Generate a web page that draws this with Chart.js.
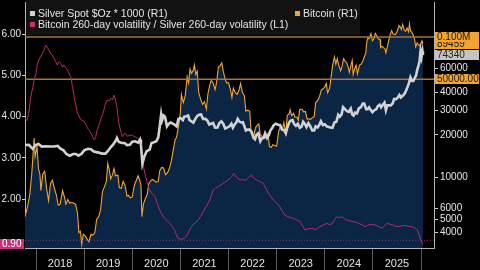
<!DOCTYPE html>
<html>
<head>
<meta charset="utf-8">
<script src="https://cdn.jsdelivr.net/npm/chart.js@4.4.1/dist/chart.umd.min.js"></script>
<style>
  html, body { margin: 0; padding: 0; background: #000; }
  canvas { display: block; }
</style>
</head>
<body>
<canvas id="chart" width="480" height="270"></canvas>
<script>
// Bitcoin (R1), decimal year / USD
const btcTime = [
  2017.77, 2017.82, 2017.87, 2017.91, 2017.94, 2017.96, 2017.98,
  2018.02, 2018.05, 2018.08, 2018.10, 2018.14, 2018.18, 2018.22, 2018.26, 2018.30, 2018.34, 2018.38, 2018.42, 2018.46, 2018.50, 2018.55, 2018.59, 2018.62, 2018.66, 2018.70, 2018.74, 2018.78, 2018.82, 2018.86, 2018.89, 2018.92, 2018.95, 2018.98,
  2019.02, 2019.06, 2019.10, 2019.14, 2019.18, 2019.22, 2019.26, 2019.30, 2019.34, 2019.38, 2019.42, 2019.46, 2019.49, 2019.52, 2019.55, 2019.59, 2019.62, 2019.65, 2019.70, 2019.73, 2019.77, 2019.81, 2019.85, 2019.89, 2019.92, 2019.96,
  2020.00, 2020.04, 2020.08, 2020.12, 2020.15, 2020.18, 2020.20, 2020.23, 2020.27, 2020.31, 2020.34, 2020.38, 2020.42, 2020.46, 2020.50, 2020.54, 2020.57, 2020.61, 2020.65, 2020.69, 2020.73, 2020.77, 2020.81, 2020.85, 2020.89, 2020.92, 2020.96,
  2021.00, 2021.02, 2021.06, 2021.10, 2021.14, 2021.17, 2021.20, 2021.23, 2021.27, 2021.29, 2021.32, 2021.35, 2021.38, 2021.42, 2021.46, 2021.50, 2021.54, 2021.57, 2021.61, 2021.64, 2021.68, 2021.72, 2021.75, 2021.79, 2021.82, 2021.86, 2021.89, 2021.93, 2021.96,
  2022.00, 2022.04, 2022.07, 2022.10, 2022.14, 2022.18, 2022.22, 2022.25, 2022.29, 2022.33, 2022.36, 2022.40, 2022.44, 2022.47, 2022.52, 2022.56, 2022.60, 2022.63, 2022.66, 2022.70, 2022.74, 2022.78, 2022.82, 2022.85, 2022.89, 2022.92, 2022.96,
  2023.00, 2023.04, 2023.08, 2023.12, 2023.15, 2023.19, 2023.22, 2023.26, 2023.28, 2023.31, 2023.35, 2023.38, 2023.42, 2023.45, 2023.48, 2023.53, 2023.56, 2023.60, 2023.63, 2023.66, 2023.70, 2023.74, 2023.78, 2023.81, 2023.85, 2023.89, 2023.93, 2023.96,
  2024.00, 2024.03, 2024.06, 2024.10, 2024.13, 2024.16, 2024.20, 2024.23, 2024.26, 2024.29, 2024.33, 2024.36, 2024.39, 2024.42, 2024.46, 2024.49, 2024.51, 2024.55, 2024.57, 2024.59, 2024.62, 2024.65, 2024.68, 2024.72, 2024.75, 2024.79, 2024.82, 2024.85, 2024.87, 2024.89, 2024.92, 2024.96, 2024.99,
  2025.02, 2025.05, 2025.08, 2025.11, 2025.15, 2025.16, 2025.19, 2025.22, 2025.25, 2025.27, 2025.30, 2025.33, 2025.36, 2025.39, 2025.42, 2025.46, 2025.49, 2025.53, 2025.54, 2025.57, 2025.59, 2025.62, 2025.65, 2025.68, 2025.71, 2025.74, 2025.76, 2025.78, 2025.81, 2025.84, 2025.87, 2025.89, 2025.92, 2025.96, 2025.99,
  2026.02, 2026.04
];
const btcValue = [
  5200, 6100, 7500, 10500, 15000, 19000, 14000,
  16500, 11500, 10500, 8000, 10500, 11000, 8200, 6800, 9000, 9500, 8300, 7500, 6300, 6400, 8000, 7200, 6400, 6900, 6500, 6600, 6500, 6400, 5600, 4000, 4100, 3300, 3900,
  3800, 3600, 3450, 3900, 3850, 4000, 5000, 5200, 5800, 7900, 8500, 9300, 12500, 11300, 9700, 10400, 11500, 10200, 10300, 8400, 8300, 9300, 8700, 7300, 7400, 7100,
  7200, 8700, 9400, 10200, 9600, 8700, 5200, 6400, 7000, 7500, 8900, 9400, 9600, 9400, 9200, 9300, 11100, 11700, 11600, 10400, 10700, 11500, 13000, 15500, 18500, 19200, 23000,
  29000, 39000, 34000, 38000, 52000, 47000, 59000, 55000, 58000, 63000, 54000, 57000, 40000, 36000, 33000, 34500, 30500, 39000, 45500, 49000, 47000, 42000, 47000, 61000, 62000, 65500, 57000, 50000, 47000,
  47000, 42000, 37000, 43000, 40000, 39000, 42000, 46500, 40000, 38000, 29500, 30000, 29500, 20500, 19500, 22500, 23500, 24000, 20000, 19500, 19000, 19300, 20500, 16500, 16300, 17000, 16800,
  16600, 21000, 23000, 22000, 24500, 20500, 27500, 28300, 30300, 27500, 28500, 26800, 26800, 25500, 30500, 30500, 29200, 29400, 26000, 26000, 25800, 26500, 27000, 34000, 35000, 37500, 42000, 42500,
  44000, 46500, 40000, 43000, 51000, 62000, 72000, 64000, 70000, 63000, 57500, 62000, 70000, 67500, 65000, 60500, 56000, 64000, 68000, 54000, 59000, 63000, 54500, 63000, 63500, 67000, 72000, 76000, 90000, 98000, 97000, 106000, 94000,
  97000, 106000, 102000, 97000, 96000, 84000, 86000, 84000, 82500, 77000, 85000, 95000, 104000, 111000, 105000, 104000, 107000, 117000, 121000, 118000, 113000, 123000, 112000, 110000, 116000, 109000, 124000, 111000, 108000, 103000, 95000, 85000, 91000, 87000, 88000,
  94000, 89459
];

// Silver spot x 1000 (R1)
const silverTime = [
  2017.77, 2017.85, 2017.93, 2017.99,
  2018.05, 2018.12, 2018.20, 2018.28, 2018.37, 2018.45, 2018.50, 2018.57, 2018.63, 2018.70, 2018.77, 2018.83, 2018.88, 2018.95,
  2019.00, 2019.08, 2019.14, 2019.20, 2019.28, 2019.37, 2019.44, 2019.49, 2019.55, 2019.60, 2019.66, 2019.68, 2019.72, 2019.78, 2019.84, 2019.89, 2019.95,
  2020.00, 2020.06, 2020.12, 2020.16, 2020.18, 2020.21, 2020.25, 2020.30, 2020.36, 2020.40, 2020.45, 2020.50, 2020.54, 2020.57, 2020.60, 2020.62, 2020.65, 2020.68, 2020.72, 2020.76, 2020.80, 2020.85, 2020.89, 2020.92, 2020.96,
  2021.00, 2021.05, 2021.08, 2021.12, 2021.16, 2021.19, 2021.23, 2021.27, 2021.31, 2021.35, 2021.39, 2021.43, 2021.47, 2021.52, 2021.56, 2021.60, 2021.64, 2021.68, 2021.72, 2021.77, 2021.81, 2021.85, 2021.89, 2021.93, 2021.97,
  2022.02, 2022.06, 2022.09, 2022.13, 2022.16, 2022.19, 2022.22, 2022.26, 2022.30, 2022.33, 2022.36, 2022.40, 2022.44, 2022.48, 2022.52, 2022.55, 2022.58, 2022.62, 2022.66, 2022.69, 2022.73, 2022.76, 2022.80, 2022.84, 2022.87, 2022.91, 2022.94, 2022.98,
  2023.03, 2023.07, 2023.11, 2023.15, 2023.19, 2023.22, 2023.26, 2023.29, 2023.33, 2023.36, 2023.40, 2023.44, 2023.48, 2023.52, 2023.55, 2023.59, 2023.62, 2023.66, 2023.70, 2023.74, 2023.78, 2023.81, 2023.85, 2023.89, 2023.92, 2023.96,
  2024.00, 2024.04, 2024.08, 2024.12, 2024.16, 2024.20, 2024.24, 2024.28, 2024.31, 2024.35, 2024.38, 2024.42, 2024.46, 2024.50, 2024.54, 2024.57, 2024.60, 2024.63, 2024.67, 2024.71, 2024.75, 2024.79, 2024.82, 2024.86, 2024.89, 2024.92, 2024.96, 2024.99,
  2025.03, 2025.07, 2025.10, 2025.14, 2025.17, 2025.21, 2025.24, 2025.27, 2025.30, 2025.33, 2025.37, 2025.41, 2025.44, 2025.48, 2025.52, 2025.55, 2025.58, 2025.62, 2025.66, 2025.69, 2025.72, 2025.75, 2025.78, 2025.81, 2025.84, 2025.87, 2025.90, 2025.92, 2025.95, 2025.97, 2025.99,
  2026.01, 2026.03, 2026.04
];
const silverValue = [
  16900, 17000, 15900, 16900,
  17200, 16500, 16600, 16500, 16500, 16700, 16000, 15500, 14600, 14200, 14600, 14600, 14200, 14700,
  15500, 15900, 15800, 15200, 15000, 14700, 14700, 15300, 16300, 17000, 18300, 19000, 17800, 17500, 17500, 16900, 17000,
  17900, 18000, 17600, 18500, 17000, 12500, 14000, 15300, 15700, 17500, 17700, 18000, 19200, 23000, 28000, 25500, 27500, 27000, 23000, 24000, 24500, 24000, 23500, 23000, 26000,
  26400, 25500, 27000, 27200, 27500, 25500, 25000, 24500, 26000, 27300, 27800, 28000, 26000, 26000, 25300, 23700, 24000, 24300, 22500, 22600, 24300, 25000, 24000, 22200, 22500,
  23000, 24000, 22500, 23800, 24500, 26000, 25000, 24500, 24600, 23000, 21500, 21800, 21800, 21000, 19000, 18600, 20000, 20500, 18000, 18800, 19000, 20500, 19000, 20000, 21500, 22500, 23500, 24000,
  23600, 23500, 21800, 21700, 20500, 22500, 24500, 25300, 25500, 24000, 23200, 24000, 22500, 23000, 24800, 23800, 22700, 24200, 23000, 21500, 21500, 23000, 22600, 23700, 25000, 23500,
  23800, 23000, 22800, 22600, 22500, 24500, 24800, 27800, 27000, 28000, 31500, 30500, 29500, 29200, 30800, 28000, 27500, 28800, 28500, 31000, 31500, 33500, 33500, 30500, 30500, 31500, 30000, 29000,
  30000, 30500, 32000, 32800, 31500, 33000, 34000, 30000, 32500, 32500, 32500, 33500, 36000, 36000, 37000, 38500, 37000, 38000, 39500, 41500, 44000, 47000, 51500, 48500, 48500, 51000, 53500, 58000, 63000, 67000, 79000,
  72000, 79000, 74340
];

// Bitcoin 260-day volatility / Silver 260-day volatility (L1)
const volTime = [
  2017.77, 2017.81, 2017.85, 2017.89, 2017.93, 2017.96,
  2018.00, 2018.03, 2018.07, 2018.13, 2018.17, 2018.20, 2018.24, 2018.27, 2018.30, 2018.34, 2018.38, 2018.41, 2018.44, 2018.48, 2018.51, 2018.55, 2018.58, 2018.62, 2018.65, 2018.72, 2018.76, 2018.79, 2018.83, 2018.86, 2018.93, 2018.97,
  2019.00, 2019.04, 2019.07, 2019.11, 2019.14, 2019.18, 2019.21, 2019.24, 2019.27, 2019.31, 2019.34, 2019.38, 2019.41, 2019.44, 2019.48, 2019.52, 2019.56, 2019.59, 2019.62, 2019.65, 2019.68, 2019.70, 2019.72, 2019.76, 2019.79, 2019.83, 2019.86, 2019.90, 2019.95,
  2020.00, 2020.05, 2020.10, 2020.15, 2020.19, 2020.22, 2020.26, 2020.31, 2020.36, 2020.42, 2020.47, 2020.52, 2020.57, 2020.62, 2020.67, 2020.72, 2020.78, 2020.83, 2020.88, 2020.92, 2020.95,
  2021.00, 2021.05, 2021.12, 2021.17, 2021.23, 2021.30, 2021.37, 2021.42, 2021.47, 2021.54, 2021.61, 2021.68, 2021.73, 2021.78, 2021.84, 2021.89, 2021.94, 2021.99,
  2022.05, 2022.11, 2022.17, 2022.24, 2022.29, 2022.34, 2022.41, 2022.48, 2022.53, 2022.59, 2022.65, 2022.72, 2022.78, 2022.83, 2022.88, 2022.93,
  2023.00, 2023.07, 2023.12, 2023.17, 2023.26, 2023.35, 2023.42, 2023.49, 2023.54, 2023.59, 2023.66, 2023.73, 2023.81, 2023.90, 2023.97,
  2024.04, 2024.10, 2024.15, 2024.20, 2024.25, 2024.31, 2024.36, 2024.41, 2024.46, 2024.52, 2024.59, 2024.65, 2024.71, 2024.78, 2024.84, 2024.89, 2024.94,
  2025.00, 2025.05, 2025.12, 2025.19, 2025.24, 2025.29, 2025.35, 2025.40, 2025.47, 2025.54, 2025.60, 2025.67, 2025.74, 2025.81, 2025.87, 2025.92, 2025.96, 2025.99,
  2026.02, 2026.04
];
const volValue = [
  3.96, 3.90, 4.10, 4.48, 4.70, 4.88,
  5.05, 5.29, 5.40, 5.53, 5.62, 5.73, 5.66, 5.61, 5.52, 5.49, 5.40, 5.33, 5.25, 5.33, 5.29, 5.20, 5.25, 5.18, 5.13, 4.97, 4.70, 4.48, 4.25, 4.08, 3.92, 3.90,
  3.88, 3.80, 3.71, 3.66, 3.59, 3.50, 3.43, 3.51, 3.67, 3.80, 3.92, 4.05, 4.16, 4.30, 4.40, 4.38, 4.44, 4.40, 4.52, 4.40, 4.24, 4.02, 3.84, 3.65, 3.51, 3.58, 3.59, 3.52, 3.55,
  3.54, 3.51, 3.48, 3.43, 3.20, 2.87, 2.62, 2.40, 2.22, 2.12, 2.06, 1.90, 1.73, 1.62, 1.53, 1.48, 1.41, 1.33, 1.25, 1.12, 1.05,
  1.03, 1.03, 1.09, 1.20, 1.33, 1.42, 1.49, 1.58, 1.69, 1.82, 1.98, 2.22, 2.26, 2.30, 2.34, 2.38, 2.42, 2.46,
  2.52, 2.62, 2.52, 2.46, 2.48, 2.44, 2.52, 2.58, 2.50, 2.46, 2.42, 2.38, 2.25, 2.14, 2.05, 1.98,
  1.90, 1.81, 1.70, 1.61, 1.56, 1.53, 1.49, 1.45, 1.35, 1.25, 1.28, 1.29, 1.26, 1.33, 1.37,
  1.41, 1.38, 1.40, 1.50, 1.57, 1.55, 1.57, 1.52, 1.49, 1.47, 1.45, 1.44, 1.41, 1.37, 1.33, 1.36, 1.39,
  1.38, 1.37, 1.33, 1.29, 1.35, 1.41, 1.39, 1.38, 1.34, 1.33, 1.35, 1.36, 1.34, 1.33, 1.30, 1.25, 1.15, 1.01,
  0.95, 0.90
];

const seriesNames = [
  'Silver Spot $Oz * 1000 (R1)',
  'Bitcoin 260-day volatility / Silver 260-day volatility (L1)',
  'Bitcoin (R1)'
];
const yearTicks = [2018, 2019, 2020, 2021, 2022, 2023, 2024, 2025, 2026];
const leftTicks = [2, 3, 4, 5, 6];
const rightTicks = [4000, 5000, 6000, 10000, 20000, 30000, 40000, 60000];
const levelLines = [100000, 50000];
const parityLevel = 1;

// axis ranges
const X_MIN = 2017.77, X_MAX = 2026.27;
const L_MIN = 0.813, L_MAX = 6.776;
const R_MIN = 3112, R_MAX = 177800;

const ORANGE = '#f2a431';
const SILVER = '#d2d2d2';
const PINK = '#b32a6c';
const FONT = '"Liberation Sans", Arial, sans-serif';

Chart.defaults.font.family = FONT;

const pts = (ts, vs) => ts.map((t, i) => ({ x: t, y: vs[i] }));
const flat = (v, axis) => [{ x: X_MIN, y: v }, { x: X_MAX, y: v }];

// fix axis box size so the plot area lands where the reference has it
const fixAxis = size => axis => {
  if (axis.isHorizontal()) axis.height = size; else axis.width = size;
  axis.paddingTop = axis.paddingBottom = axis.paddingLeft = axis.paddingRight = 0;
};

function tag(ctx, text, x, y, w, bg, fg) {
  const cy = Math.round(y);
  ctx.fillStyle = bg;
  ctx.fillRect(x, cy - 5, w, 10);
  ctx.fillStyle = fg;
  ctx.textAlign = 'left';
  ctx.textBaseline = 'middle';
  ctx.fillText(text, x + 2, cy + 0.5);
}

const overlay = {
  id: 'overlay',
  afterDraw(chart) {
    const ctx = chart.ctx;
    const yR = chart.scales.yR;
    const yL = chart.scales.yL;
    ctx.save();

    // legend block
    ctx.fillStyle = '#121212';
    ctx.fillRect(26, 0, 334, 35);
    ctx.font = '10.5px ' + FONT;
    ctx.textBaseline = 'middle';
    ctx.textAlign = 'left';
    const legend = [
      { text: seriesNames[0], color: SILVER, x: 30, y: 14 },
      { text: seriesNames[1], color: '#c2306e', x: 30, y: 25 },
      { text: seriesNames[2], color: ORANGE, x: 295, y: 14 }
    ];
    legend.forEach(it => {
      ctx.fillStyle = it.color;
      ctx.fillRect(it.x, it.y - 3, 5, 5);
      ctx.fillStyle = '#e4e4e4';
      ctx.fillText(it.text, it.x + 8, it.y);
    });

    // last value / level tags on the right axis
    ctx.font = '10px ' + FONT;
    const lastSilver = silverValue[silverValue.length - 1];
    const lastBtc = btcValue[btcValue.length - 1];
    tag(ctx, String(Math.round(lastSilver)), 435, yR.getPixelForValue(lastSilver), 44, '#c4c4c4', '#222');
    tag(ctx, String(Math.round(lastBtc)), 435, yR.getPixelForValue(lastBtc), 44, ORANGE, '#1a1a1a');
    tag(ctx, levelLines[1].toFixed(2), 435, yR.getPixelForValue(levelLines[1]), 44, ORANGE, '#1a1a1a');
    tag(ctx, (levelLines[0] / 1e6).toFixed(3) + 'M', 435, yR.getPixelForValue(levelLines[0]), 44, ORANGE, '#1a1a1a');

    // last value tag on the left axis
    const lastVol = volValue[volValue.length - 1];
    tag(ctx, lastVol.toFixed(2), 0, yL.getPixelForValue(lastVol), 24, '#c8307a', '#fff');
    ctx.restore();
  }
};

new Chart(document.getElementById('chart'), {
  type: 'line',
  data: {
    datasets: [
      { label: seriesNames[0], data: pts(silverTime, silverValue), yAxisID: 'yR',
        borderColor: SILVER, borderWidth: 2.6 },
      { label: seriesNames[1], data: pts(volTime, volValue), yAxisID: 'yL',
        borderColor: PINK, borderWidth: 1 },
      { data: flat(parityLevel), yAxisID: 'yL',
        borderColor: '#8e2f6e', borderWidth: 1, borderDash: [1, 2] },
      ...levelLines.map(v => ({ data: flat(v), yAxisID: 'yR',
        borderColor: '#a8753a', borderWidth: 1.5 })),
      { label: seriesNames[2], data: pts(btcTime, btcValue), yAxisID: 'yR',
        borderColor: ORANGE, borderWidth: 1.1, fill: 'start', backgroundColor: '#0b2545' }
    ]
  },
  options: {
    responsive: false,
    animation: false,
    devicePixelRatio: 1,
    layout: { padding: { top: 2, left: 0, right: 0, bottom: 0 } },
    elements: { point: { radius: 0 }, line: { tension: 0 } },
    plugins: { legend: { display: false }, tooltip: { enabled: false } },
    scales: {
      x: {
        type: 'linear', min: X_MIN, max: X_MAX,
        afterBuildTicks: a => { a.ticks = yearTicks.map(v => ({ value: v })); },
        afterFit: fixAxis(22),
        ticks: {
          autoSkip: false, maxRotation: 0, labelOffset: 24, padding: -13,
          color: '#e2e2e2', font: { size: 11 },
          callback: v => (v < 2026 ? String(v) : '')
        },
        grid: { drawOnChartArea: false, tickLength: 22, color: '#5c5c5c' },
        border: { color: '#b4b4b4' }
      },
      yL: {
        type: 'linear', position: 'left', min: L_MIN, max: L_MAX,
        afterBuildTicks: a => { a.ticks = leftTicks.map(v => ({ value: v })); },
        afterFit: fixAxis(25),
        ticks: { autoSkip: false, padding: 1, color: '#e6e6e6', font: { size: 10 },
          callback: v => Number(v).toFixed(2) },
        grid: { drawOnChartArea: false, tickLength: 3, color: '#cfcfcf' },
        border: { color: '#b4b4b4' }
      },
      yR: {
        type: 'logarithmic', position: 'right', min: R_MIN, max: R_MAX,
        afterBuildTicks: a => { a.ticks = rightTicks.map(v => ({ value: v })); },
        afterFit: fixAxis(46),
        ticks: { autoSkip: false, padding: 2, color: '#e6e6e6', font: { size: 10 },
          callback: v => String(v) },
        grid: { drawOnChartArea: false, tickLength: 4, color: '#cfcfcf' },
        border: { color: '#b4b4b4' }
      }
    }
  },
  plugins: [overlay]
});
</script>
</body>
</html>
